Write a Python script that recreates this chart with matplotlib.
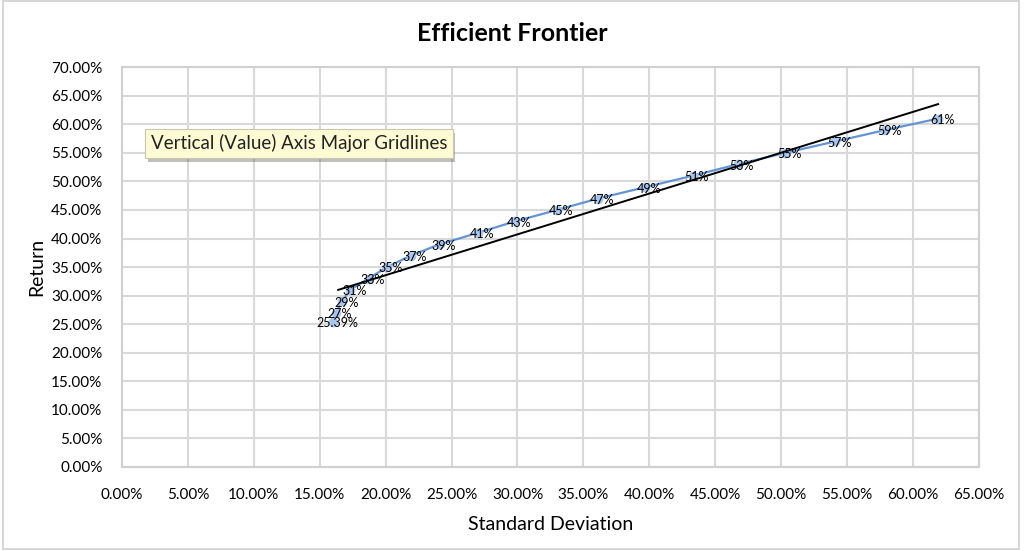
import numpy as np
from matplotlib import pyplot as plt
from matplotlib.ticker import FuncFormatter, MultipleLocator
from matplotlib.patches import Rectangle
import matplotlib.patheffects as pe

plt.rcParams['font.family'] = ['Lato', 'DejaVu Sans']

# portfolio risk (std dev, %) and return (%)
std_dev = [16.0, 16.2, 16.7, 17.3, 18.7, 20.1, 21.9, 24.1, 27.0, 29.8,
           33.0, 36.1, 39.7, 43.3, 46.7, 50.3, 54.1, 57.9, 61.9]
returns = [25.39, 27, 29, 31, 33, 35, 37, 39, 41, 43,
           45, 47, 49, 51, 53, 55, 57, 59, 61]
point_labels = ["25.39%", "27%", "29%", "31%", "33%", "35%", "37%", "39%", "41%", "43%",
                "45%", "47%", "49%", "51%", "53%", "55%", "57%", "59%", "61%"]

x = np.array(std_dev) / 100
y = np.array(returns) / 100

fig = plt.figure(figsize=(10.24, 5.51), dpi=100)
ax = fig.add_axes([0.1191, 0.1525, 0.8369, 0.7255])

# frontier line with faded markers
ax.plot(x, y, color="#5b8fd3", lw=1.6, zorder=3,
        marker="o", ms=6, mfc="#a9c6ee", mec="#a9c6ee", alpha=0.95)

# linear trendline (Excel draws it over the data's x range)
slope, icpt = np.polyfit(x, y, 1)
tx = np.array([x.min() + 0.004, x.max()])
ax.plot(tx, slope * tx + icpt, color="black", lw=1.4, zorder=4)

for xi, yi, lab in zip(x, y, point_labels):
    ax.annotate(lab, (xi, yi), xytext=(3, -1), textcoords="offset points",
                ha="center", va="center", fontsize=9, color="black", zorder=5)

ax.set_xlim(0, 0.65)
ax.set_ylim(0, 0.70)
ax.xaxis.set_major_locator(MultipleLocator(0.05))
ax.yaxis.set_major_locator(MultipleLocator(0.05))
pct = FuncFormatter(lambda v, _: f"{v * 100:.2f}%")
ax.xaxis.set_major_formatter(pct)
ax.yaxis.set_major_formatter(pct)
ax.tick_params(length=0, labelsize=11, colors="black")
ax.tick_params(axis="x", pad=15)
ax.tick_params(axis="y", pad=14)

ax.grid(True, color="#d9d9d9", lw=1.5)
ax.set_axisbelow(True)
for s in ax.spines.values():
    s.set_color("#d0d0d0")
    s.set_linewidth(1.5)

ax.set_xlabel("Standard Deviation", fontsize=14, labelpad=10)
ax.set_ylabel("Return", fontsize=14, labelpad=4)
fig.text(0.5, 0.94, "Efficient Frontier", ha="center", va="center",
         fontsize=18, fontweight="bold")

# hover tooltip
tip = fig.text(0.147, 0.74, "Vertical (Value) Axis Major Gridlines", ha="left", va="center",
               fontsize=13.5, color="#222222", zorder=10,
               bbox=dict(boxstyle="square,pad=0.3", fc="#fdfbd3", ec="#c8c8b0", lw=0.8))
tip.get_bbox_patch().set_path_effects([pe.withSimplePatchShadow(offset=(2, -3), alpha=0.35)])

# chart frame
fig.patches.append(Rectangle((0.003, 0.004), 0.992, 0.994, transform=fig.transFigure,
                             fill=False, ec="#cfcfcf", lw=1.2))

fig.savefig("out.png", dpi=100)
